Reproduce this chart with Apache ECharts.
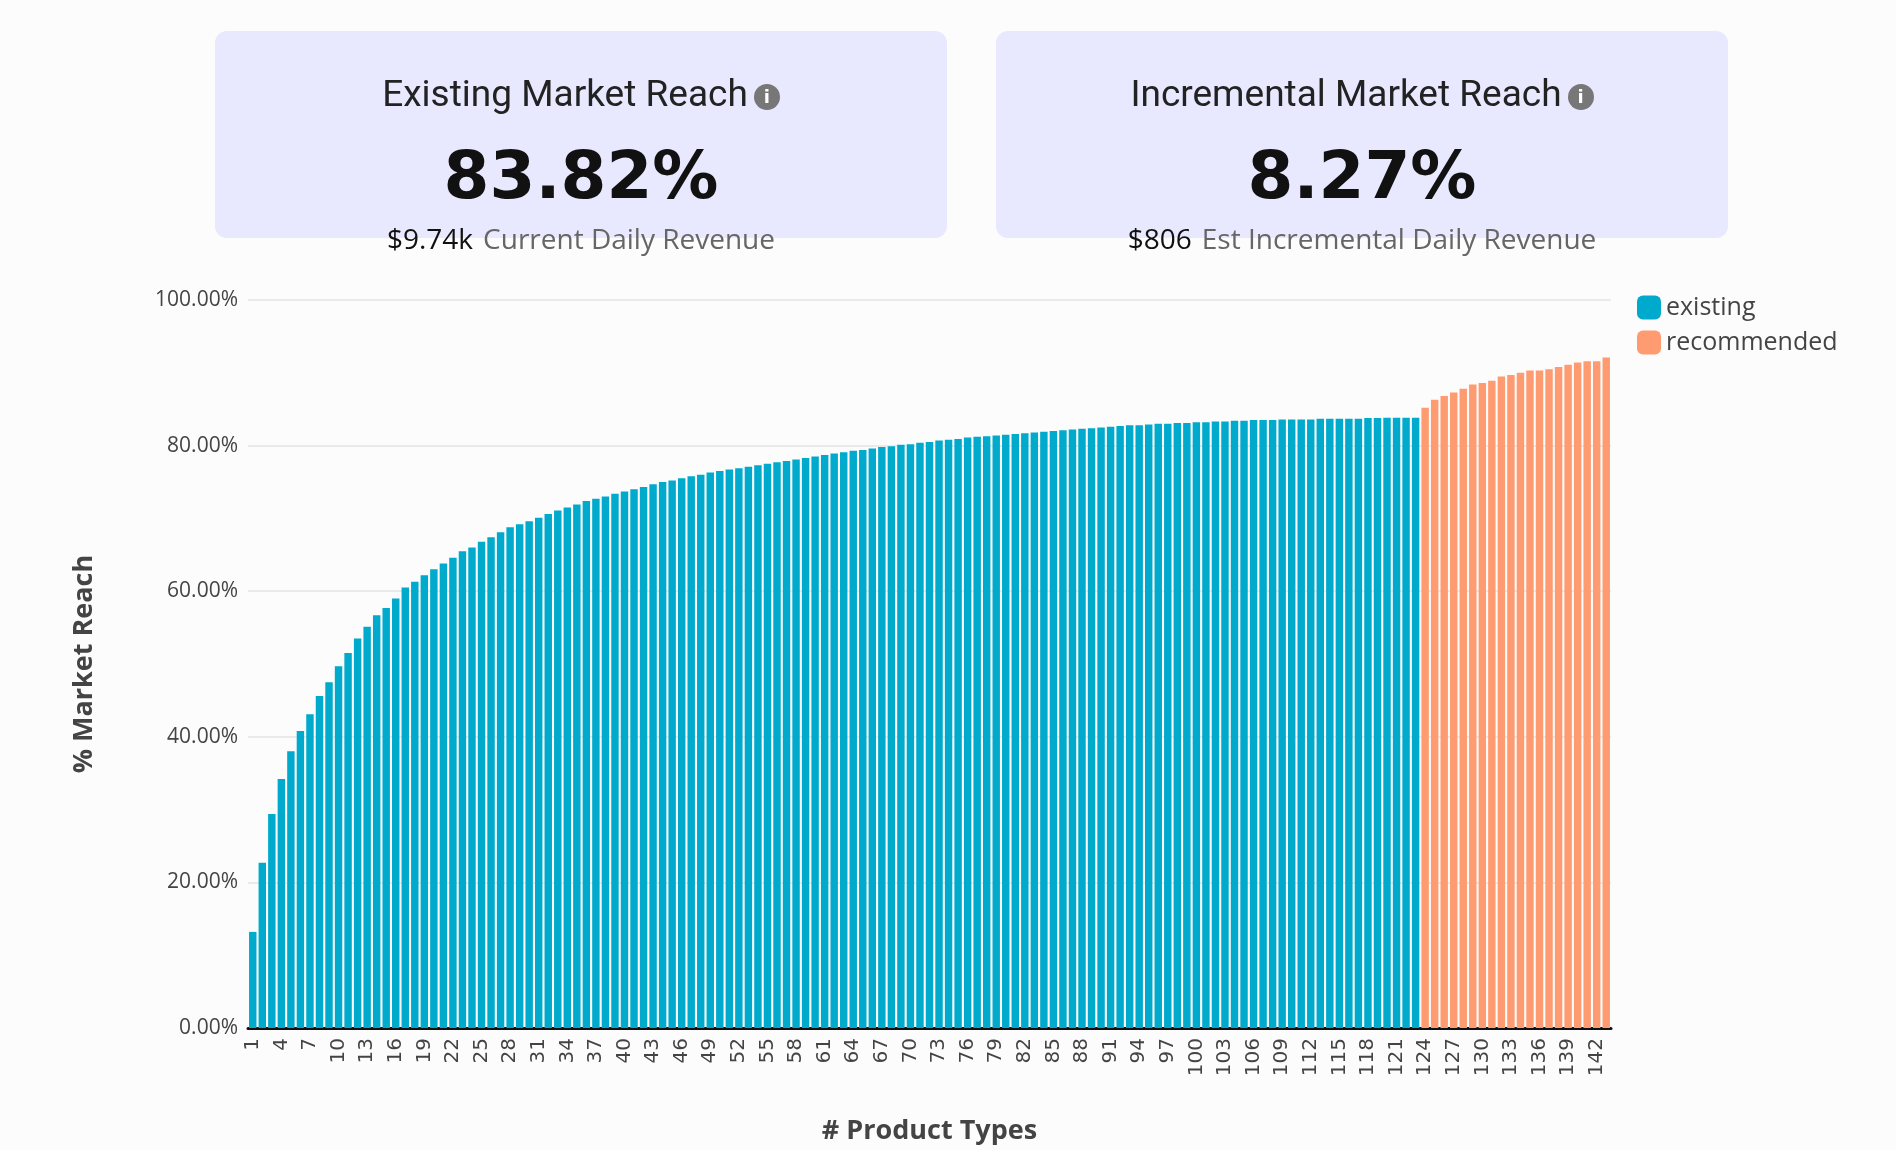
<!DOCTYPE html>
<html><head><meta charset="utf-8">
<script src="https://cdn.jsdelivr.net/npm/echarts@6/dist/echarts.min.js"></script>
<style>
html,body{margin:0;padding:0;background:#fcfcfc;width:1896px;height:1150px;overflow:hidden;font-family:"Open Sans",sans-serif;}
.card{position:absolute;top:31px;width:732px;height:207px;background:#e8e8ff;border-radius:12px;text-align:center;}
.t{position:absolute;top:44px;width:100%;font-size:37px;color:#222;line-height:1;font-family:Roboto,sans-serif;}
.i{display:inline-block;width:26px;height:26px;border-radius:13px;background:#777;color:#fff;font-size:18px;line-height:26px;font-weight:bold;vertical-align:3px;margin-left:6px;font-family:"DejaVu Sans";}
.v{position:absolute;top:112px;width:100%;font-size:66px;font-weight:bold;color:#111;line-height:1;font-family:"DejaVu Sans",sans-serif;}
.s{position:absolute;top:193px;width:100%;font-size:28px;line-height:1;color:#111;}
.s span{color:#666;margin-left:10px;}
#c{position:absolute;left:0;top:0;width:1896px;height:1150px;}
</style></head><body>
<div id="c"></div>
<div class="card" style="left:215px"><div class="t">Existing Market Reach<span class="i">i</span></div><div class="v">83.82%</div><div class="s">$9.74k<span>Current Daily Revenue</span></div></div>
<div class="card" style="left:996px"><div class="t">Incremental Market Reach<span class="i">i</span></div><div class="v">8.27%</div><div class="s">$806<span>Est Incremental Daily Revenue</span></div></div>
<script>
const existing = [13.2,22.7,29.4,34.2,38.0,40.8,43.1,45.6,47.5,49.7,51.5,53.5,55.1,56.7,57.7,59.0,60.5,61.3,62.2,63.0,
63.8,64.6,65.5,66.0,66.8,67.4,68.1,68.8,69.2,69.6,70.1,70.6,71.1,71.5,71.9,72.4,72.7,73.0,73.4,73.7,
74.0,74.3,74.7,75.0,75.2,75.5,75.8,76.0,76.3,76.5,76.7,76.9,77.1,77.3,77.5,77.7,77.9,78.1,78.3,78.5,
78.7,78.9,79.1,79.3,79.4,79.6,79.8,79.9,80.1,80.2,80.4,80.5,80.7,80.8,80.9,81.1,81.2,81.3,81.4,81.5,
81.6,81.7,81.8,81.9,82.0,82.1,82.2,82.3,82.4,82.5,82.6,82.7,82.8,82.8,82.9,83.0,83.0,83.1,83.1,83.2,
83.2,83.3,83.3,83.4,83.4,83.5,83.5,83.5,83.6,83.6,83.6,83.6,83.7,83.7,83.7,83.7,83.7,83.8,83.8,83.82,
83.82,83.82,83.82];
const recommended = [85.2,86.3,86.8,87.3,87.8,88.4,88.6,88.9,89.5,89.7,90.0,90.3,90.3,90.5,90.8,91.1,91.4,91.6,91.6,92.09];
const categories = [];
for (let i = 1; i <= existing.length + recommended.length; i++) categories.push(String(i));
const exData = categories.map((c,i)=> i < existing.length ? existing[i] : '-');
const recData = categories.map((c,i)=> i >= existing.length ? recommended[i-existing.length] : '-');
const chart = echarts.init(document.getElementById('c'));
chart.setOption({
  animation:false,
  grid:{left:248,right:285,top:300,bottom:115},
  legend:{orient:'vertical',left:1632,top:290,itemWidth:24,itemHeight:24,itemGap:10,
    textStyle:{fontSize:25,color:'#444',fontFamily:'Open Sans'},data:['existing','recommended']},
  xAxis:{type:'category',data:categories,
    name:'# Product Types',nameLocation:'middle',nameGap:90,
    nameTextStyle:{fontSize:27,fontWeight:'bold',color:'#444',fontFamily:'Open Sans'},
    axisLine:{lineStyle:{color:'#111',width:3}},axisTick:{show:false},
    axisLabel:{interval:2,rotate:90,fontSize:20,color:'#444',fontFamily:'DejaVu Sans',margin:10}},
  yAxis:{type:'value',min:0,max:100,interval:20,
    name:'% Market Reach',nameLocation:'middle',nameGap:150,
    nameTextStyle:{fontSize:27,fontWeight:'bold',color:'#444',fontFamily:'Open Sans'},
    axisLabel:{formatter:v=>v.toFixed(2)+'%',fontSize:21,color:'#444',fontFamily:'Open Sans',margin:10},
    splitLine:{lineStyle:{color:'#e4e4e4',width:1.5}}},
  series:[
    {name:'existing',type:'bar',stack:'a',data:exData,itemStyle:{color:'#00aacc'},barCategoryGap:'22%'},
    {name:'recommended',type:'bar',stack:'a',data:recData,itemStyle:{color:'#ff9b70'}}
  ]
});
</script></body></html>
